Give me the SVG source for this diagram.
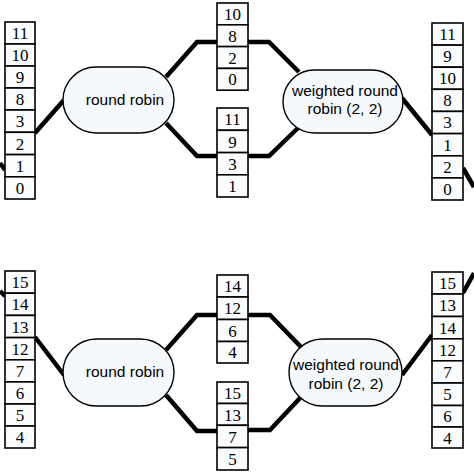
<svg xmlns="http://www.w3.org/2000/svg" width="474" height="474" viewBox="0 0 474 474">
<style>
.bg{fill:#ffffff}
.cell{fill:#fbfcfd;stroke:#000;stroke-width:1.6}
.num{font-family:"Liberation Serif","Times New Roman",serif;font-size:17px;fill:#000;text-anchor:middle}
.rr{fill:#f5f9fc;stroke:#000;stroke-width:1.4}
.lbl{font-family:"Liberation Sans",Arial,sans-serif;font-size:15.5px;fill:#000;text-anchor:middle}
.con{fill:none;stroke:#000;stroke-width:4.5;stroke-linejoin:miter;stroke-linecap:butt}
</style>
<rect class="bg" x="0" y="0" width="474" height="474"/>
<g id="connectors">
<polyline class="con" points="0,163 5,170"/>
<polyline class="con" points="35,133 64,100"/>
<polyline class="con" points="166,77 197,42 217,42"/>
<polyline class="con" points="166,123 197,156 217,156"/>
<polyline class="con" points="248,42 269,42 299,72"/>
<polyline class="con" points="248,156 269,156 299,127"/>
<polyline class="con" points="402,98 432,135"/>
<polyline class="con" points="463,168 474,187"/>
<polyline class="con" points="0,291 5,296"/>
<polyline class="con" points="35,337 64,375"/>
<polyline class="con" points="166,350 197,315 217,315"/>
<polyline class="con" points="166,395 197,431 217,431"/>
<polyline class="con" points="248,315 270,315 301,347"/>
<polyline class="con" points="248,430 270,430 301,397"/>
<polyline class="con" points="402,375 432,335"/>
<polyline class="con" points="463,293 474,273"/>
</g>
<g id="stack-top-left">
<rect class="cell" x="5" y="22" width="30" height="22"/><text class="num" x="20" y="39">11</text>
<rect class="cell" x="5" y="44" width="30" height="22"/><text class="num" x="20" y="61">10</text>
<rect class="cell" x="5" y="66" width="30" height="22"/><text class="num" x="20" y="83">9</text>
<rect class="cell" x="5" y="88" width="30" height="22"/><text class="num" x="20" y="105">8</text>
<rect class="cell" x="5" y="110" width="30" height="22.3"/><text class="num" x="20" y="127">3</text>
<rect class="cell" x="5" y="132.3" width="30" height="22.3"/><text class="num" x="20" y="149.5">2</text>
<rect class="cell" x="5" y="154.6" width="30" height="22.2"/><text class="num" x="20" y="171.5">1</text>
<rect class="cell" x="5" y="176.8" width="30" height="22.2"/><text class="num" x="20" y="193.5">0</text>
</g>
<g id="rr-top">
<rect class="rr" x="63" y="67" width="111" height="66" rx="33" ry="33"/>
<text class="lbl" x="125" y="105">round robin</text>
</g>
<g id="stack-top-a">
<rect class="cell" x="217" y="3" width="31" height="21.8"/><text class="num" x="232.5" y="20">10</text>
<rect class="cell" x="217" y="24.8" width="31" height="21.8"/><text class="num" x="232.5" y="41.8">8</text>
<rect class="cell" x="217" y="46.6" width="31" height="21.8"/><text class="num" x="232.5" y="63.6">2</text>
<rect class="cell" x="217" y="68.4" width="31" height="21.8"/><text class="num" x="232.5" y="85.4">0</text>
</g>
<g id="stack-top-b">
<rect class="cell" x="217" y="108" width="31" height="22.3"/><text class="num" x="232.5" y="125.2">11</text>
<rect class="cell" x="217" y="130.3" width="31" height="22.3"/><text class="num" x="232.5" y="147.5">9</text>
<rect class="cell" x="217" y="152.6" width="31" height="22.2"/><text class="num" x="232.5" y="169.7">3</text>
<rect class="cell" x="217" y="174.8" width="31" height="22.2"/><text class="num" x="232.5" y="191.9">1</text>
</g>
<g id="wrr-top">
<rect class="rr" x="283" y="70" width="120" height="63" rx="31.5" ry="31.5"/>
<text class="lbl" x="345" y="96">weighted round</text>
<text class="lbl" x="345" y="114">robin (2, 2)</text>
</g>
<g id="stack-top-right">
<rect class="cell" x="432" y="23" width="31" height="22.1"/><text class="num" x="447.5" y="40">11</text>
<rect class="cell" x="432" y="45.1" width="31" height="22.1"/><text class="num" x="447.5" y="62.1">9</text>
<rect class="cell" x="432" y="67.2" width="31" height="22.1"/><text class="num" x="447.5" y="84.2">10</text>
<rect class="cell" x="432" y="89.3" width="31" height="22.1"/><text class="num" x="447.5" y="106.3">8</text>
<rect class="cell" x="432" y="111.4" width="31" height="22.2"/><text class="num" x="447.5" y="128.4">3</text>
<rect class="cell" x="432" y="133.6" width="31" height="22.2"/><text class="num" x="447.5" y="150.6">1</text>
<rect class="cell" x="432" y="155.8" width="31" height="22.1"/><text class="num" x="447.5" y="172.8">2</text>
<rect class="cell" x="432" y="177.9" width="31" height="22.1"/><text class="num" x="447.5" y="194.9">0</text>
</g>
<g id="stack-bottom-left">
<rect class="cell" x="5" y="271" width="30" height="22.2"/><text class="num" x="20" y="288.1">15</text>
<rect class="cell" x="5" y="293.2" width="30" height="22.2"/><text class="num" x="20" y="310.3">14</text>
<rect class="cell" x="5" y="315.4" width="30" height="22.2"/><text class="num" x="20" y="332.5">13</text>
<rect class="cell" x="5" y="337.6" width="30" height="22.2"/><text class="num" x="20" y="354.7">12</text>
<rect class="cell" x="5" y="359.8" width="30" height="22.1"/><text class="num" x="20" y="376.9">7</text>
<rect class="cell" x="5" y="381.9" width="30" height="22.1"/><text class="num" x="20" y="399">6</text>
<rect class="cell" x="5" y="404" width="30" height="22"/><text class="num" x="20" y="421.1">5</text>
<rect class="cell" x="5" y="426" width="30" height="22"/><text class="num" x="20" y="443.1">4</text>
</g>
<g id="rr-bottom">
<rect class="rr" x="63" y="339" width="111" height="67" rx="33.5" ry="33.5"/>
<text class="lbl" x="125" y="377">round robin</text>
</g>
<g id="stack-bottom-c">
<rect class="cell" x="217" y="275" width="31" height="22"/><text class="num" x="232.5" y="292">14</text>
<rect class="cell" x="217" y="297" width="31" height="22.5"/><text class="num" x="232.5" y="314.2">12</text>
<rect class="cell" x="217" y="319.5" width="31" height="22"/><text class="num" x="232.5" y="336.5">6</text>
<rect class="cell" x="217" y="341.5" width="31" height="21.5"/><text class="num" x="232.5" y="358.3">4</text>
</g>
<g id="stack-bottom-d">
<rect class="cell" x="217" y="382" width="31" height="21.5"/><text class="num" x="232.5" y="398.8">15</text>
<rect class="cell" x="217" y="403.5" width="31" height="21.8"/><text class="num" x="232.5" y="420.5">13</text>
<rect class="cell" x="217" y="425.3" width="31" height="22.3"/><text class="num" x="232.5" y="442.5">7</text>
<rect class="cell" x="217" y="447.6" width="31" height="22.4"/><text class="num" x="232.5" y="464.9">5</text>
</g>
<g id="wrr-bottom">
<rect class="rr" x="289" y="339" width="113" height="67" rx="33.5" ry="33.5"/>
<text class="lbl" x="346" y="370">weighted round</text>
<text class="lbl" x="346" y="389">robin (2, 2)</text>
</g>
<g id="stack-bottom-right">
<rect class="cell" x="432" y="272" width="31" height="22"/><text class="num" x="447.5" y="289">15</text>
<rect class="cell" x="432" y="294" width="31" height="22.5"/><text class="num" x="447.5" y="311.2">13</text>
<rect class="cell" x="432" y="316.5" width="31" height="22.3"/><text class="num" x="447.5" y="333.6">14</text>
<rect class="cell" x="432" y="338.8" width="31" height="22"/><text class="num" x="447.5" y="355.8">12</text>
<rect class="cell" x="432" y="360.8" width="31" height="22.2"/><text class="num" x="447.5" y="377.9">7</text>
<rect class="cell" x="432" y="383" width="31" height="22.5"/><text class="num" x="447.5" y="400.2">5</text>
<rect class="cell" x="432" y="405.5" width="31" height="21.5"/><text class="num" x="447.5" y="422.2">6</text>
<rect class="cell" x="432" y="427" width="31" height="21"/><text class="num" x="447.5" y="443.5">4</text>
</g>
</svg>
